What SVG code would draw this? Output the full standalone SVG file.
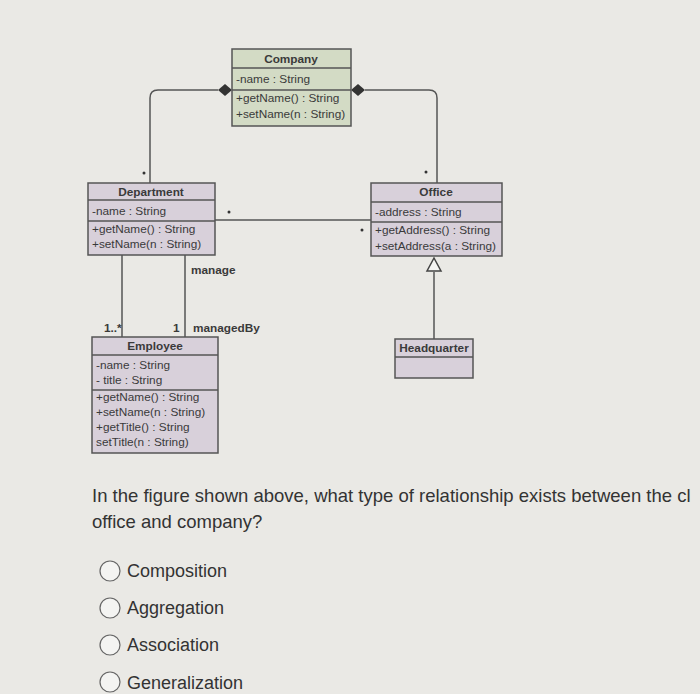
<svg xmlns="http://www.w3.org/2000/svg" width="700" height="694" viewBox="0 0 700 694">
<style>
.box{stroke:#555;stroke-width:1.5}
.co{fill:#d3dbc5}
.cl{fill:#d8d0da}
.t{font-family:"Liberation Sans",Arial,sans-serif;font-size:11.8px;fill:#3a3a3a}
.b{font-weight:bold;text-anchor:middle}
.ln{fill:none;stroke:#555;stroke-width:1.5}
.q{font-family:"Liberation Sans",Arial,sans-serif;font-size:18.5px;fill:#333}
.o{font-family:"Liberation Sans",Arial,sans-serif;font-size:18px;fill:#333}
.r{fill:#f4f4f2;stroke:#666;stroke-width:1.2}
</style>
<rect width="700" height="694" fill="#eae9e5"/>
<g id="connectors">
<path class="ln" d="M150,183 V98 Q150,90 158,90 H218"/>
<path d="M218,90 L225,84 L232,90 L225,96 Z" fill="#333"/>
<path class="ln" d="M365,90 H429 Q437,90 437,98 V183"/>
<path d="M351,90 L358,84 L365,90 L358,96 Z" fill="#333"/>
<path class="ln" d="M215,220 H371"/>
<path class="ln" d="M122,255 V337 M185,255 V337"/>
<path class="ln" d="M434,339 V272"/>
<path d="M434,258 L441,271 L427,271 Z" fill="#f4f4f2" stroke="#444" stroke-width="1.5"/>
<g fill="#333"><circle cx="144" cy="173" r="1.5"/><circle cx="229" cy="212" r="1.5"/><circle cx="426" cy="172" r="1.5"/><circle cx="362" cy="230" r="1.5"/></g>
<text class="t" x="191" y="274" font-size="10.5" font-weight="bold">manage</text>
<text class="t" x="104" y="332" font-size="10.5" font-weight="bold">1..*</text>
<text class="t" x="173" y="332" font-size="10.5" font-weight="bold">1</text>
<text class="t" x="193" y="332" font-size="10.5" font-weight="bold">managedBy</text>
</g>
<g id="company">
<rect class="box co" x="232" y="49" width="119" height="77"/>
<path class="ln" d="M232,68 H351 M232,90 H351"/>
<text class="t b" x="291" y="63">Company</text>
<text class="t" x="236" y="83">-name : String</text>
<text class="t" x="236" y="102">+getName() : String</text>
<text class="t" x="236" y="118">+setName(n : String)</text>
</g>
<g id="department">
<rect class="box cl" x="88" y="183" width="127" height="72"/>
<path class="ln" d="M88,200 H215 M88,221 H215"/>
<text class="t b" x="151" y="196">Department</text>
<text class="t" x="92" y="215">-name : String</text>
<text class="t" x="92" y="233">+getName() : String</text>
<text class="t" x="92" y="248">+setName(n : String)</text>
</g>
<g id="office">
<rect class="box cl" x="371" y="183" width="131" height="73"/>
<path class="ln" d="M371,202 H502 M371,222 H502"/>
<text class="t b" x="436" y="196">Office</text>
<text class="t" x="375" y="216">-address : String</text>
<text class="t" x="375" y="234">+getAddress() : String</text>
<text class="t" x="375" y="250">+setAddress(a : String)</text>
</g>
<g id="employee">
<rect class="box cl" x="92" y="337" width="126" height="116"/>
<path class="ln" d="M92,355 H218 M92,390 H218"/>
<text class="t b" x="155" y="350">Employee</text>
<text class="t" x="96" y="369">-name : String</text>
<text class="t" x="96" y="384">- title : String</text>
<text class="t" x="96" y="401">+getName() : String</text>
<text class="t" x="96" y="416">+setName(n : String)</text>
<text class="t" x="96" y="431">+getTitle() : String</text>
<text class="t" x="96" y="446">setTitle(n : String)</text>
</g>
<g id="headquarter">
<rect class="box cl" x="395" y="339" width="78" height="39"/>
<path class="ln" d="M395,357 H473"/>
<text class="t b" x="434" y="352">Headquarter</text>
</g>
<g id="question">
<text class="q" x="92" y="502">In the figure shown above, what type of relationship exists between the cl</text>
<text class="q" x="92" y="528">office and company?</text>
<circle class="r" cx="110" cy="571" r="10"/><text class="o" x="127" y="577">Composition</text>
<circle class="r" cx="110" cy="608" r="10"/><text class="o" x="127" y="614">Aggregation</text>
<circle class="r" cx="110" cy="645" r="10"/><text class="o" x="127" y="651">Association</text>
<circle class="r" cx="110" cy="682" r="10"/><text class="o" x="127" y="689">Generalization</text>
</g>
</svg>
